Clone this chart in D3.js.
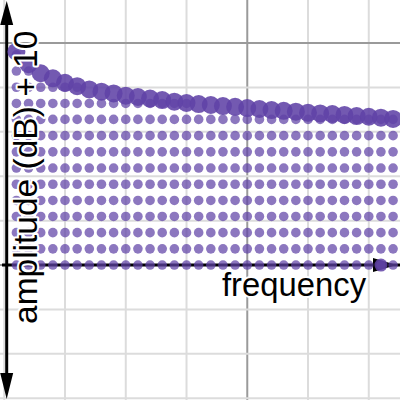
<!DOCTYPE html>
<html><head><meta charset="utf-8">
<script src="https://cdn.jsdelivr.net/npm/d3@7/dist/d3.min.js"></script>
<style>html,body{margin:0;padding:0;background:#fff;overflow:hidden}</style>
</head><body>
<svg id="chart" width="400" height="400"></svg>
<script>
// ---- data ----
const frequency = [1,2,3,4,5,6,7,8,9,10,11,12,13,14,15,16,17,18,19,20,21,22,23,24,25,26,27,28,29,30,31,32];
const amplitude = [9.61,9.05,8.64,8.41,8.21,8.06,7.91,7.81,7.73,7.63,7.57,7.50,7.43,7.36,7.30,7.25,
                   7.21,7.16,7.13,7.07,7.03,6.98,6.95,6.91,6.86,6.83,6.80,6.76,6.71,6.68,6.64,6.58];
const rowLevels = [0,0.73,1.46,2.19,2.91,3.64,4.37,5.10,5.83,6.56,7.28,8.01,8.74,9.47];
const markerFreq = [31];
const markerAmp = [0];
const xGrid = [0,5,10,15,20,25,30];
const xGridMajor = [20];
const yGrid = [-6,-4,-2,0,2,4,6,8,10];
const yGridMajor = [10,0];
const xLabel = "frequency";
const yLabel = "amplitude (dB) + 10";

// ---- scales ----
const W = 400, H = 400;
const x = d3.scaleLinear().domain([-0.35, 32.57]).range([0, W]);
const y = d3.scaleLinear().domain([11.94, -6.08]).range([0, H]);

const svg = d3.select("#chart");

// grid
svg.append("g").selectAll("line").data(xGrid).join("line")
  .attr("x1", d => x(d)).attr("x2", d => x(d)).attr("y1", 0).attr("y2", H)
  .attr("stroke", d => xGridMajor.includes(d) ? "#9a9a9a" : "#dcdcdc")
  .attr("stroke-width", 2);
svg.append("g").selectAll("line").data(yGrid).join("line")
  .attr("y1", d => y(d)).attr("y2", d => y(d)).attr("x1", 0).attr("x2", W)
  .attr("stroke", d => yGridMajor.includes(d) ? "#9a9a9a" : "#dcdcdc")
  .attr("stroke-width", 2);

// axes (arrows)
const ax = svg.append("g");
const y0 = y(0), axX = 6.7;
ax.append("line").attr("x1", 2).attr("x2", W).attr("y1", y0).attr("y2", y0)
  .attr("stroke", "#000").attr("stroke-width", 3);
ax.append("path").attr("d", `M396.5,${y0} L373,${y0-7} L373,${y0+7} Z`).attr("fill", "#000");
ax.append("line").attr("x1", axX).attr("x2", axX).attr("y1", 12).attr("y2", H - 12)
  .attr("stroke", "#000").attr("stroke-width", 3);
ax.append("path").attr("d", `M${axX},1 L${axX-6.5},25 L${axX+6.5},25 Z`).attr("fill", "#000");
ax.append("path").attr("d", `M${axX},399 L${axX-6.5},373 L${axX+6.5},373 Z`).attr("fill", "#000");

// small dots: each column filled with rows up to its amplitude
const small = [];
frequency.forEach((f, i) => {
  rowLevels.forEach(r => { if (r <= amplitude[i] + 0.02) small.push({f, r}); });
});
svg.append("g").selectAll("circle").data(small).join("circle")
  .attr("cx", d => x(d.f)).attr("cy", d => y(d.r)).attr("r", 4.8)
  .attr("fill", "#6042a6").attr("fill-opacity", 0.72);

// big dots along curve
svg.append("g").selectAll("circle").data(frequency).join("circle")
  .attr("cx", d => x(d)).attr("cy", (d, i) => y(amplitude[i])).attr("r", 9)
  .attr("fill", "#6042a6").attr("fill-opacity", 0.88);

svg.append("g").selectAll("circle").data(markerFreq).join("circle")
  .attr("cx", d => x(d)).attr("cy", (d, i) => y(markerAmp[i])).attr("r", 6.5)
  .attr("fill", "#6042a6").attr("fill-opacity", 0.85);

// labels with white halo
const font = "Arial, 'Liberation Sans', sans-serif";
svg.append("text").attr("x", 222).attr("y", 296)
  .attr("font-family", font).attr("font-size", 32.8)
  .attr("stroke", "#fff").attr("stroke-width", 4).attr("paint-order", "stroke")
  .attr("stroke-linejoin", "round")
  .attr("fill", "#000").text(xLabel);
svg.append("text").attr("transform", "translate(37,324) rotate(-90)")
  .attr("font-family", font).attr("font-size", 33.5)
  .attr("stroke", "#fff").attr("stroke-width", 4).attr("paint-order", "stroke")
  .attr("stroke-linejoin", "round")
  .attr("fill", "#000").text(yLabel);
</script>
</body></html>
